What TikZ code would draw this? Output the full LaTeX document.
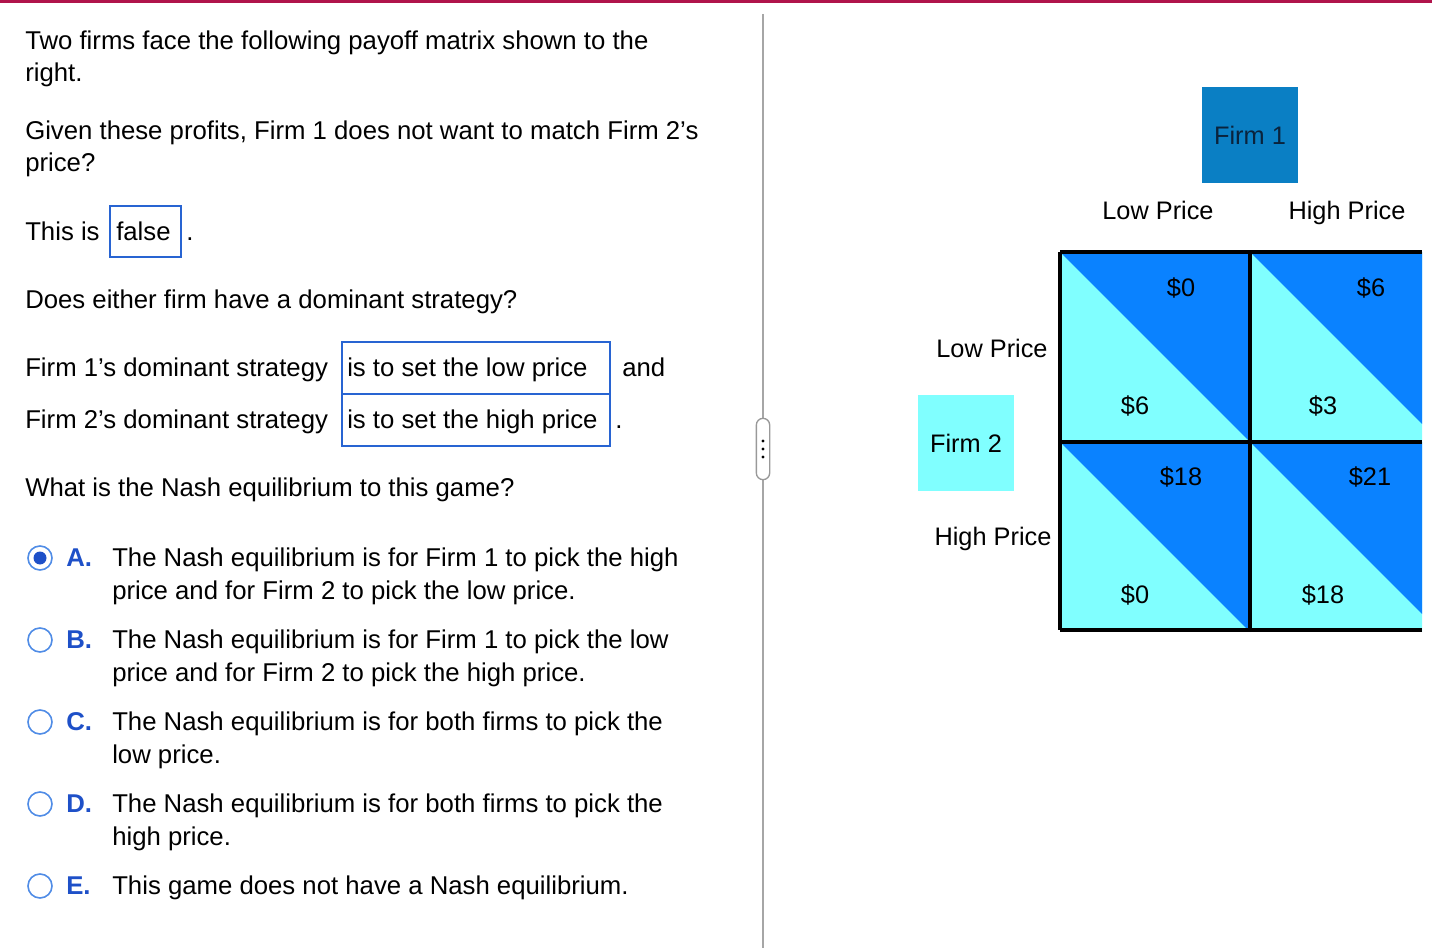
\documentclass[tikz,border=0pt]{standalone}
\usepackage{fontspec}
\setmainfont{Liberation Sans}
\definecolor{lcyan}{HTML}{80FFFF}
\definecolor{dblue}{HTML}{0A82FF}
\definecolor{fblue}{HTML}{0A7FC4}
\definecolor{boxblue}{RGB}{40,100,210}
\definecolor{radblue}{RGB}{80,140,230}
\definecolor{letblue}{RGB}{30,80,200}
\definecolor{topred}{RGB}{176,20,75}
\definecolor{firmtxt}{RGB}{10,35,60}
\begin{document}
\begin{tikzpicture}[x=0.75pt,y=-0.75pt,
  txt/.style={anchor=base west,inner sep=0pt,font=\fontsize{19.3}{22}\selectfont},
  ansbox/.style={draw=boxblue,line width=0.9pt},
  radio/.style={circle,draw=radblue,line width=1.2pt,minimum size=18pt,inner sep=0pt},
  letter/.style={txt,text=letblue,font=\fontsize{19.3}{22}\selectfont\bfseries},
  mline/.style={line width=2.6pt,black},
  mtxt/.style={anchor=base,inner sep=0pt,font=\fontsize{19}{22}\selectfont}]
\useasboundingbox (0,0) rectangle (1432,948);
\fill[topred] (0,0) rectangle (1432,3);
\draw[gray!70,line width=1pt] (763,14) -- (763,948);
\node[draw=gray!80,fill=white,rounded corners=5pt,line width=1pt,minimum width=10pt,minimum height=46pt,inner sep=0pt] (handle) at (763,449) {};
\foreach \d in {-8,0,8} \fill[black] (763,449+\d) circle (1.7);
% left text
\node[txt] (t1) at (25,50) {Two firms face the following payoff matrix shown to the};
\node[txt] (t2) at (25,82) {right.};
\node[txt] (t3) at (25,140) {Given these profits, Firm 1 does not want to match Firm 2{\char39}s};
\node[txt] (t4) at (25,172) {price?};
\node[txt] (t5) at (25,241) {This is};
\draw[ansbox] (110,206) rectangle (181,257);
\node[txt] (f) at (116,241) {false};
\node[txt] at (186,241) {.};
\node[txt] (t6) at (25,309) {Does either firm have a dominant strategy?};
\node[txt] (t7) at (25,377) {Firm 1{\char39}s dominant strategy};
\node[txt] (t8) at (25,429) {Firm 2{\char39}s dominant strategy};
\draw[ansbox] (342,342) rectangle (610,394);
\draw[ansbox] (342,394) rectangle (610,446);
\node[txt] at (347,377) {is to set the low price};
\node[txt] at (347,429) {is to set the high price};
\node[txt] at (622,377) {and};
\node[txt] at (615,429) {.};
\node[txt] (t9) at (25,497) {What is the Nash equilibrium to this game?};
% options
\foreach \y/\l/\a/\b in {558/A./The Nash equilibrium is for Firm 1 to pick the high/price and for Firm 2 to pick the low price.,
  640/B./The Nash equilibrium is for Firm 1 to pick the low/price and for Firm 2 to pick the high price.,
  722/C./The Nash equilibrium is for both firms to pick the/low price.,
  804/D./The Nash equilibrium is for both firms to pick the/high price.}{
  \node[radio] at (40,\y) {};
  \node[letter] at (66,\y+8) {\l};
  \node[txt] at (112,\y+8) {\a};
  \node[txt] at (112,\y+41) {\b};
}
\node[radio] (rE) at (40,886) {};
\node[letter] at (66,894) {E.};
\node[txt] at (112,894) {This game does not have a Nash equilibrium.};
\fill[letblue] (40,558) circle (6.5);
% matrix
\node[fill=fblue,minimum width=72pt,minimum height=72pt,inner sep=0pt,font=\fontsize{19}{22}\selectfont,text=firmtxt] (firm1) at (1250,135) {Firm 1};
\node[fill=lcyan,minimum width=72pt,minimum height=72pt,inner sep=0pt,font=\fontsize{19}{22}\selectfont] (firm2) at (966,443) {Firm 2};
\node[mtxt] at (1158,220) {Low Price};
\node[mtxt] at (1347,220) {High Price};
\node[mtxt] at (992,358) {Low Price};
\node[mtxt] at (993,546) {High Price};
\begin{scope}
\clip (1060,252) rectangle (1422,632);
\foreach \x in {1060,1250}{\foreach \y in {252,442}{
  \fill[lcyan] (\x,\y) rectangle ++(190,190);
  \fill[dblue] (\x,\y) -- ++(190,0) -- ++(0,190) -- cycle;
}}
\end{scope}
\draw[mline] (1060,252) -- (1422,252);
\draw[mline] (1060,442) -- (1422,442);
\draw[mline] (1060,630) -- (1422,630);
\draw[mline] (1060,252) -- (1060,630);
\draw[mline] (1250,252) -- (1250,630);
\foreach \x/\y/\t in {1181/297/\$0,1371/297/\$6,1135/415/\$6,1323/415/\$3,1181/485/\$18,1370/485/\$21,1135/603/\$0,1323/603/\$18}
  \node[mtxt] at (\x,\y) {\t};
\end{tikzpicture}
\end{document}
